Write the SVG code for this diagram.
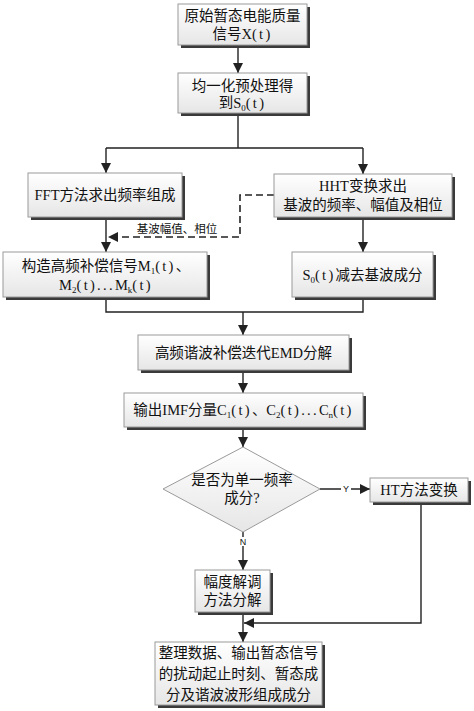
<svg xmlns="http://www.w3.org/2000/svg" width="474" height="711" viewBox="0 0 474 711">
<defs>
<linearGradient id="g" x1="0" y1="0" x2="0" y2="1">
<stop offset="0" stop-color="#ffffff"/>
<stop offset="1" stop-color="#e6e6e6"/>
</linearGradient>
<marker id="ah" viewBox="0 0 10 10" refX="10" refY="5" markerWidth="10" markerHeight="10" markerUnits="userSpaceOnUse" orient="auto">
<path d="M0,0 L10,5 L0,10 Z" fill="#222"/>
</marker>
</defs>
<style>
.sh{fill:#3a3a3a}
.bx{fill:url(#g);stroke:#9a9a9a;stroke-width:1}
.t{font-family:"Liberation Serif","Noto Sans CJK SC",serif;font-size:14.5px;fill:#111;text-anchor:middle}
.p{letter-spacing:2.3px}
.s{font-size:9px}
.ln{fill:none;stroke:#222;stroke-width:1.4}
.ds{fill:none;stroke:#222;stroke-width:1.6;stroke-dasharray:7,4}
.lb{font-family:"Liberation Serif","Noto Sans CJK SC",serif;font-size:11.5px;fill:#111;text-anchor:middle}
.yn{font-family:"Liberation Sans","Noto Sans",sans-serif;font-size:9px;fill:#111;text-anchor:middle}
</style>
<g id="connectors">
<path class="ln" d="M238,45 V73" marker-end="url(#ah)"/>
<path class="ln" d="M238,113 V148 M106,148 H363"/>
<path class="ln" d="M106,148 V173" marker-end="url(#ah)"/>
<path class="ln" d="M363,148 V174" marker-end="url(#ah)"/>
<path class="ln" d="M106,217 V252" marker-end="url(#ah)"/>
<path class="ln" d="M363,217 V252" marker-end="url(#ah)"/>
<path class="ds" d="M274,195 H240 V237 H108" marker-end="url(#ah)"/>
<path class="ln" d="M106,297 V312 H363 V297"/>
<path class="ln" d="M243,312 V335" marker-end="url(#ah)"/>
<path class="ln" d="M243,370 V393" marker-end="url(#ah)"/>
<path class="ln" d="M243,427 V447" marker-end="url(#ah)"/>
<path class="ln" d="M320,489 H370" marker-end="url(#ah)"/>
<path class="ln" d="M243,532 V570" marker-end="url(#ah)"/>
<path class="ln" d="M421,502 V623 H244" marker-end="url(#ah)"/>
<path class="ln" d="M243,612 V642" marker-end="url(#ah)"/>
<rect x="341" y="484" width="10" height="10" fill="#fff"/>
<text class="yn" x="346" y="492">Y</text>
<rect x="238" y="537" width="10" height="9" fill="#fff"/>
<text class="yn" x="243" y="545">N</text>
<text class="lb" x="177" y="233">基波幅值、相位</text>
</g>
<g id="n1">
<rect class="sh" x="181" y="7" width="129" height="41"/>
<rect class="bx" x="178" y="4" width="129" height="41"/>
<text class="t" x="242.5" y="21">原始暂态电能质量</text>
<text class="t" x="242.5" y="39">信号X<tspan class="p">(t)</tspan></text>
</g>
<g id="n2">
<rect class="sh" x="181" y="76" width="129" height="40"/>
<rect class="bx" x="178" y="73" width="129" height="40"/>
<text class="t" x="242.5" y="91">均一化预处理得</text>
<text class="t" x="242.5" y="108">到S<tspan class="s" dy="3">0</tspan><tspan class="p" dy="-3">(t)</tspan></text>
</g>
<g id="n3">
<rect class="sh" x="31" y="176" width="154" height="44"/>
<rect class="bx" x="28" y="173" width="154" height="44"/>
<text class="t" x="105" y="200">FFT方法求出频率组成</text>
</g>
<g id="n4">
<rect class="sh" x="277" y="177" width="178" height="43"/>
<rect class="bx" x="274" y="174" width="178" height="43"/>
<text class="t" x="363" y="191">HHT变换求出</text>
<text class="t" x="363" y="210">基波的频率、幅值及相位</text>
</g>
<g id="n5">
<rect class="sh" x="6" y="255" width="204" height="45"/>
<rect class="bx" x="3" y="252" width="204" height="45"/>
<text class="t" x="106" y="271">构造高频补偿信号M<tspan class="s" dy="3">1</tspan><tspan class="p" dy="-3">(t)</tspan>、</text>
<text class="t" x="106" y="290">M<tspan class="s" dy="3">2</tspan><tspan class="p" dy="-3">(t)...</tspan>M<tspan class="s" dy="3">k</tspan><tspan class="p" dy="-3">(t)</tspan></text>
</g>
<g id="n6">
<rect class="sh" x="295" y="255" width="141" height="45"/>
<rect class="bx" x="292" y="252" width="141" height="45"/>
<text class="t" x="362.5" y="280">S<tspan class="s" dy="3">0</tspan><tspan class="p" dy="-3">(t)</tspan>减去基波成分</text>
</g>
<g id="n7">
<rect class="sh" x="141" y="338" width="211" height="35"/>
<rect class="bx" x="138" y="335" width="211" height="35"/>
<text class="t" x="243.5" y="358">高频谐波补偿迭代EMD分解</text>
</g>
<g id="n8">
<rect class="sh" x="127" y="396" width="239" height="34"/>
<rect class="bx" x="124" y="393" width="239" height="34"/>
<text class="t" x="243.5" y="415">输出IMF分量C<tspan class="s" dy="3">1</tspan><tspan class="p" dy="-3">(t)</tspan>、C<tspan class="s" dy="3">2</tspan><tspan class="p" dy="-3">(t)...</tspan>C<tspan class="s" dy="3">n</tspan><tspan class="p" dy="-3">(t)</tspan></text>
</g>
<g id="n9">
<polygon class="bx" points="163,489 243,447 320,489 243,532"/>
<text class="t" x="242" y="485">是否为单一频率</text>
<text class="t" x="242" y="503">成分?</text>
</g>
<g id="n10">
<rect class="sh" x="373" y="481" width="98" height="24"/>
<rect class="bx" x="370" y="478" width="98" height="24"/>
<text class="t" x="419" y="495">HT方法变换</text>
</g>
<g id="n11">
<rect class="sh" x="198" y="573" width="75" height="42"/>
<rect class="bx" x="195" y="570" width="75" height="42"/>
<text class="t" x="232.5" y="587">幅度解调</text>
<text class="t" x="232.5" y="605">方法分解</text>
</g>
<g id="n12">
<rect class="sh" x="158" y="645" width="167" height="63"/>
<rect class="bx" x="155" y="642" width="167" height="63"/>
<text class="t" x="238.5" y="658">整理数据、输出暂态信号</text>
<text class="t" x="238.5" y="679">的扰动起止时刻、暂态成</text>
<text class="t" x="238.5" y="700">分及谐波波形组成成分</text>
</g>
</svg>
